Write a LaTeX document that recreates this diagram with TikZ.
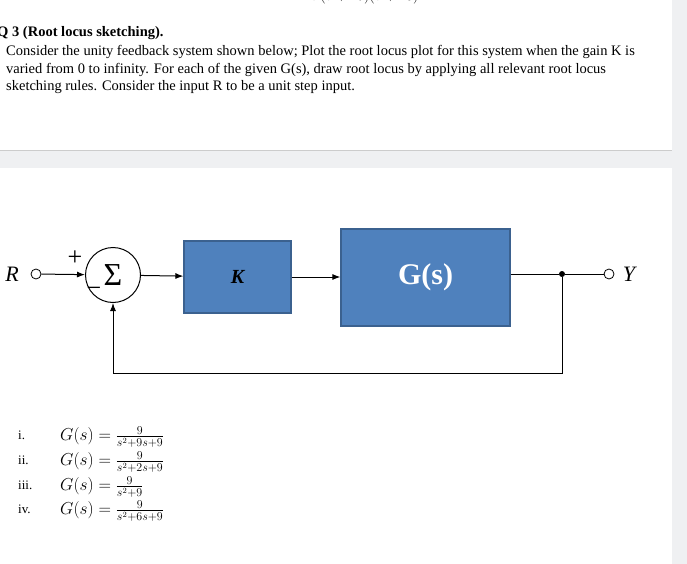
\documentclass[tikz,border=0pt]{standalone}
\usepackage{fontspec}
\setmainfont{Liberation Serif}
\usetikzlibrary{arrows.meta}
\definecolor{boxblue}{HTML}{4F81BD}
\definecolor{boxedge}{HTML}{3B618F}
\definecolor{band}{HTML}{EFF0F2}
\begin{document}
\begin{tikzpicture}[x=1pt,y=-1pt,
  blk/.style={draw=boxedge,line width=1.2pt,fill=boxblue,minimum width=#1},
  sig/.style={line width=1pt,-{Latex[length=8pt,width=6pt]}},
  wire/.style={line width=1pt},
  port/.style={circle,draw,line width=0.8pt,fill=white,inner sep=0pt,minimum size=10pt},
  txt/.style={font=\fontsize{14.5}{17}\selectfont,anchor=west,inner sep=0pt}]
\useasboundingbox (0,0) rectangle (687,564);
\clip (0,0) rectangle (687,564);
\fill[white] (0,0) rectangle (687,564);
\fill[band] (0,150) rectangle (687,168);
\fill[band] (672,0) rectangle (687,564);
\draw[gray!40,line width=1pt] (0,151) -- (672,151);
\node[font=\fontsize{15}{15}\selectfont] (top) at (365,-3) {$s\,(s+10)(s+25)$};
\node[txt,font=\bfseries\fontsize{14.5}{17}\selectfont] (q) at (-3,33) {Q 3 (Root locus sketching).};
\node[txt] (l1) at (6,52) {Consider the unity feedback system shown below; Plot the root locus plot for this system when the gain K is};
\node[txt] (l2) at (6,70) {varied from 0 to infinity. For each of the given G(s), draw root locus by applying all relevant root locus};
\node[txt] (l3) at (6,87) {sketching rules. Consider the input R to be a unit step input.};
% block diagram
\node[font=\itshape\fontsize{22}{22}\selectfont] (R) at (12,274) {R};
\node[port] (rin) at (36,274) {};
\node[circle,draw,line width=1pt,minimum size=55pt,inner sep=0pt,font=\fontsize{32}{32}\selectfont] (sum) at (113,275) {Σ};
\node[blk=107pt,minimum height=72pt,font=\bfseries\itshape\fontsize{20}{20}\selectfont] (K) at (237.5,277) {K};
\node[blk=169pt,minimum height=97pt,text=white,font=\bfseries\fontsize{30}{30}\selectfont] (G) at (425.5,277.5) {G(s)};
\node[circle,fill,inner sep=0pt,minimum size=6pt] (j) at (562,274) {};
\node[port] (yout) at (609,274) {};
\node[font=\itshape\fontsize{22}{22}\selectfont] (Y) at (629,274) {Y};
\node[font=\fontsize{26}{26}\selectfont] (plus) at (75,258) {+};
\node[font=\fontsize{26}{26}\selectfont] (minus) at (94,292) {−};
\coordinate (fb1) at (562,373);
\coordinate (fb2) at (113,373);
\draw[sig] (rin) -- (sum);
\draw[sig] (sum) -- (K);
\draw[sig] (K.east) -- (G.west|-K.east);
\draw[wire] (G.east|-j) -- (j) -- (yout);
\draw[wire] (j) -- (fb1) -- (fb2);
\draw[sig] (fb2) -- (sum);
% equations
\tikzset{num/.style={anchor=west,font=\fontsize{13}{13}\selectfont,inner sep=0pt},
  eq/.style={anchor=west,font=\fontsize{17}{17}\selectfont,inner sep=0pt}}
\node[num] (n1) at (18,435) {i.};
\node[num] (n2) at (18,460) {ii.};
\node[num] (n3) at (18,485) {iii.};
\node[num] (n4) at (18,509) {iv.};
\node[eq] (e1) at (60,437) {$G(s)=\frac{9}{s^2+9s+9}$};
\node[eq] (e2) at (60,462) {$G(s)=\frac{9}{s^2+2s+9}$};
\node[eq] (e3) at (60,487) {$G(s)=\frac{9}{s^2+9}$};
\node[eq] (e4) at (60,511) {$G(s)=\frac{9}{s^2+6s+9}$};
\end{tikzpicture}
\end{document}
